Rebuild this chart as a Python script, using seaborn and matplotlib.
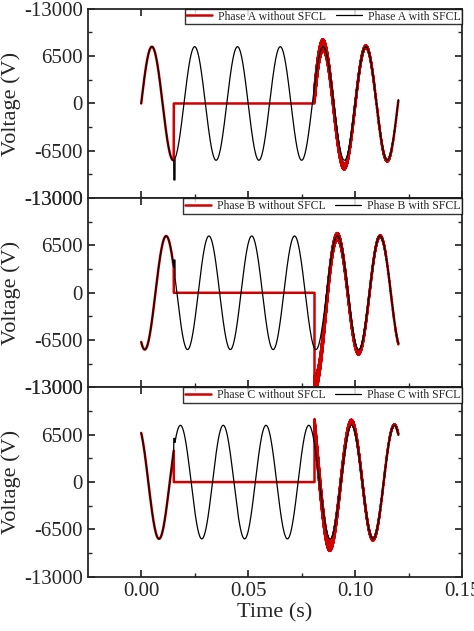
import numpy as np
import matplotlib
matplotlib.use("Agg")
import matplotlib.pyplot as plt
import seaborn as sns
import pandas as pd

sns.set_theme(style="ticks")
plt.rcParams['font.family'] = ['Liberation Serif', 'DejaVu Serif']

phases = ["A", "B", "C"]
freq_hz = 50.0
amplitude = 7800.0
phase_shift_deg = [0.0, -120.0, 120.0]
fault_start = 0.0152
fault_clear = 0.0810
t_end = 0.1202
black_spike = [-10500.0, 4500.0, 6000.0]   # SFCL voltage spike at fault instant
red_offset = [-2000.0, -2500.0, 500.0]     # transient offset after clearing
red_gain = [0.30, 0.30, 0.35]              # transient amplitude growth
ripple_amp = [1100.0, 1100.0, 1200.0]
y_ticks = [13000, 6500, 0, -6500, -13000]
y_tick_labels = ["-13000", "6500", "0", "-6500", "-13000"]
x_ticks = [0.00, 0.05, 0.10, 0.15]
x_tick_labels = ["0.00", "0.05", "0.10", "0.15"]

t = np.linspace(0, t_end, 30000)

fig, axes = plt.subplots(3, 1, figsize=(4.74, 6.31), dpi=100, sharex=True)
fig.subplots_adjust(left=0.185, right=0.975, top=0.986, bottom=0.086, hspace=0)

for i, ax in enumerate(axes):
    ph = np.deg2rad(phase_shift_deg[i])
    black = amplitude * np.sin(2 * np.pi * freq_hz * t + ph)
    spike = (t >= fault_start) & (t < fault_start + 0.0006)
    black = black.copy()
    black[spike] = black_spike[i]
    red = black.copy()
    red[spike] = amplitude * np.sin(2 * np.pi * freq_hz * fault_start + ph)
    off = (t >= fault_start) & (t < fault_clear)
    red[off] = 0.0
    post = t >= fault_clear
    tp = t[post] - fault_clear
    decay = np.exp(-tp / 0.009)
    rdecay = np.exp(-tp / 0.012)
    red[post] = (black[post] * (1 + red_gain[i] * decay) + red_offset[i] * decay
                 + ripple_amp[i] * rdecay * np.sin(2 * np.pi * 9000 * tp))
    df = pd.DataFrame({"t": t, "red": red, "black": black})
    sns.lineplot(data=df, x="t", y="red", ax=ax, color="#d00000", lw=1.8,
                 label=f"Phase {phases[i]} without SFCL")
    sns.lineplot(data=df, x="t", y="black", ax=ax, color="black", lw=0.9,
                 label=f"Phase {phases[i]} with SFCL")
    ax.set_ylim(-13000, 13000)
    ax.set_xlim(-0.025, 0.15)
    ax.set_yticks(y_ticks)
    ax.set_yticklabels(y_tick_labels, fontsize=15)
    ax.set_yticks([9750, 3250, -3250, -9750], minor=True)
    ax.set_xticks(x_ticks)
    ax.set_xticks([0.025, 0.075, 0.125], minor=True)
    ax.tick_params(which="both", direction="in", top=True, right=True)
    ax.tick_params(which="major", length=5)
    ax.tick_params(which="minor", length=3)
    ax.set_ylabel("Voltage (V)", fontsize=16, labelpad=2)
    ax.set_xlabel("")
    for s in ax.spines.values():
        s.set_linewidth(1.3)
    leg = ax.legend(loc="upper right", ncol=2, fontsize=8.5, frameon=True,
                    fancybox=False, borderaxespad=0, handlelength=2.2,
                    columnspacing=0.8, borderpad=0.15, handletextpad=0.5)
    leg.get_frame().set_edgecolor("black")
    leg.get_frame().set_linewidth(1.0)

axes[-1].set_xticklabels(x_tick_labels, fontsize=15)
axes[-1].set_xlabel("Time (s)", fontsize=16, labelpad=2)
fig.savefig("out.png", dpi=100)
